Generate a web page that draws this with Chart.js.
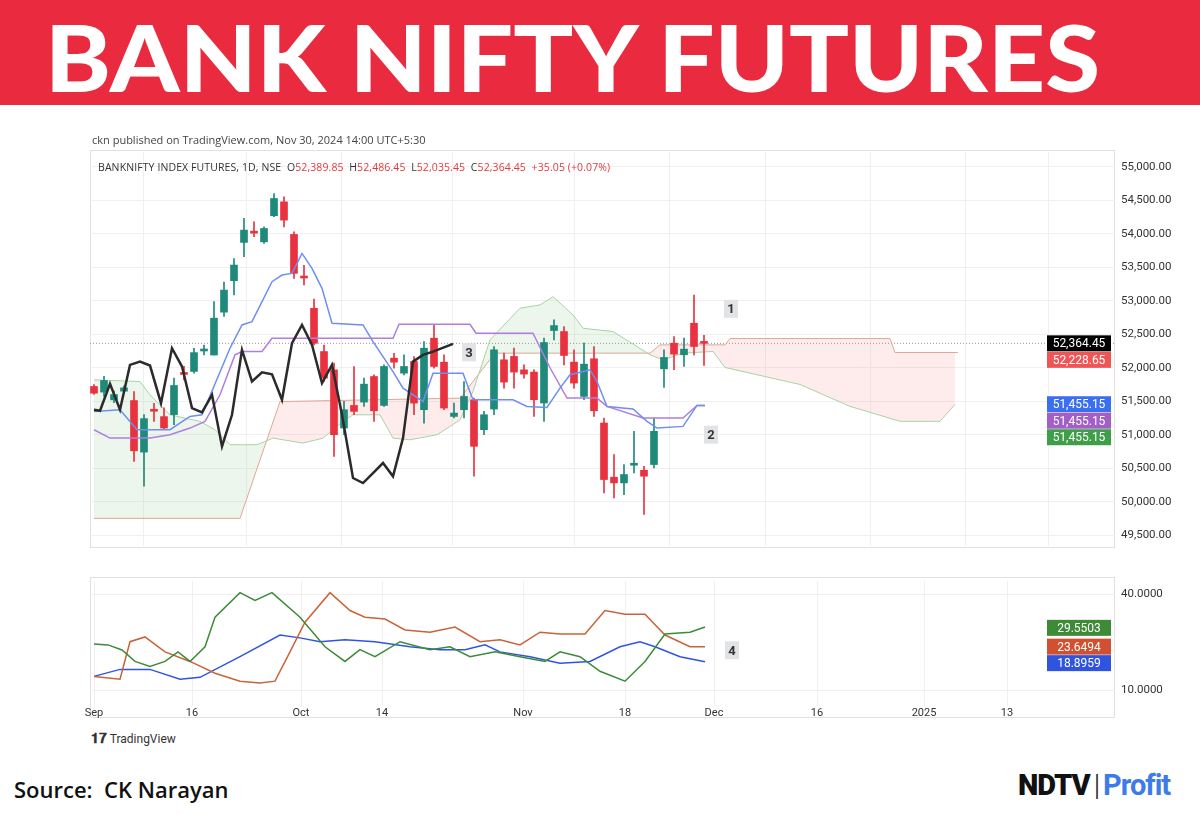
<!DOCTYPE html>
<html><head><meta charset="utf-8">
<script src="https://cdn.jsdelivr.net/npm/chart.js@4.4.1/dist/chart.umd.min.js"></script>
<style>
body{margin:0;width:1200px;height:815px;background:#fff;position:relative;overflow:hidden;font-family:"Open Sans",sans-serif;}
#banner{position:absolute;left:0;top:0;width:1200px;height:105px;background:#ea2a3e;}
.abs{position:absolute;}
#pub{left:92px;top:132px;font-size:11px;color:#444;}
#leg{left:98px;top:160px;font-size:10.5px;color:#333;letter-spacing:0.1px}
#leg span{color:#e23b3b}
#c1{left:0;top:139px;width:1200px;height:420px}
#c2{left:0;top:568px;width:1200px;height:152px}
#frame{left:90px;top:150px;width:1025px;height:568px;border:1px solid #e0e0e0;box-sizing:border-box}
#sep{left:90px;top:547px;width:1025px;height:31px;border-top:1px solid #e0e0e0;border-bottom:1px solid #e0e0e0;box-sizing:border-box;background:#fff}
#tv{left:91px;top:730px;font-size:12px;color:#333;font-family:Roboto}
#src{left:14px;top:774px;font-size:22px;color:#111;font-family:"Open Sans";font-weight:600}
#ndtv{left:1018px;top:768px;font-size:29px;font-weight:900;font-family:Roboto;color:#111;letter-spacing:-1px}
</style></head><body>
<div id="banner"><svg width="1200" height="105"><text x="45" y="92" textLength="1055" lengthAdjust="spacingAndGlyphs" font-family="Lato" font-weight="900" font-size="92" fill="#fff">BANK NIFTY FUTURES</text></svg></div>
<div id="frame" class="abs"></div>
<div id="c1" class="abs"><canvas id="main"></canvas></div>
<div id="sep" class="abs"></div>
<div id="c2" class="abs"><canvas id="low"></canvas></div>
<div id="pub" class="abs">ckn published on TradingView.com, Nov 30, 2024 14:00 UTC+5:30</div>
<div id="leg" class="abs">BANKNIFTY INDEX FUTURES, 1D, NSE &nbsp;O<span>52,389.85</span> &nbsp;H<span>52,486.45</span> &nbsp;L<span>52,035.45</span> &nbsp;C<span>52,364.45</span> &nbsp;<span>+35.05 (+0.07%)</span></div>
<div id="tv" class="abs"><b style="font-size:14px">𝟏𝟕</b> TradingView</div>
<div id="src" class="abs">Source:&nbsp; CK Narayan</div>
<div id="ndtv" class="abs">NDTV<span style="color:#111;font-weight:300;margin:0 4px">|</span><span style="color:#3d7be8;font-weight:700">Profit</span></div>
<script>
// candles: [open, high, low, close]
const candles = [
[51720,51750,51600,51620],[51636,51870,51570,51810],[51520,51650,51480,51600],[51650,51730,51620,51700],
[51510,51645,50600,50760],[50740,51300,50230,51240],[51370,51470,51200,51350],[51270,51400,51075,51100],
[51300,51845,51150,51735],[51920,52020,51820,51900],[51945,52290,51920,52226],[52250,52340,52190,52265],
[52190,52990,52190,52740],[52830,53280,52765,53160],[53300,53630,53086,53534],[53872,54230,53660,54056],
[54030,54180,53956,54010],[53880,54105,53857,54080],[54270,54600,54255,54528],[54478,54553,54105,54205],
[53991,54030,53335,53410],[53360,53530,53236,53340],[52888,53027,52340,52366],[52242,52340,51795,51845],
[51969,52068,50677,51000],[51100,51497,51000,51373],[51437,52019,51298,51348],[51487,51845,51422,51755],
[51869,51894,51199,51358],[51437,52044,51422,52019],[52143,52217,51994,52083],[51919,52193,51894,52019],
[52093,52168,51298,51472],[51373,52391,51174,52292],[52441,52640,51994,52019],[52083,52193,51373,51398],
[51273,51472,51249,51323],[51373,51795,51249,51571],[51522,51547,50379,50826],[51075,51348,51000,51298],
[51383,52317,51299,52268],[52119,52218,51696,51786],[52169,52293,51696,51935],[51969,52044,51845,51905],
[51935,51970,51274,51522],[51473,52442,51200,52377],[52556,52715,52417,52630],[52541,52615,52044,52183],
[52084,52268,51696,51771],[51572,52367,51523,52054],[52134,52317,51274,51358],[51175,51249,50131,50330],
[50365,50703,50057,50280],[50280,50554,50106,50405],[50544,51050,50430,50559],[50469,50529,49808,50380],
[50554,51249,50504,51050],[51984,52268,51706,52154],[52367,52466,51970,52203],[52193,52442,52019,52278],
[52665,53087,52193,52317],[52390,52486,52035,52364]
];
const conversionLine = [[0,51347],[2.6,51372],[4.3,51074],[7.6,51074],[9.6,51273],[10.8,51297],[13.6,52291],[14.8,52639],[15.8,52689],[17.8,53285],[18.8,53384],[19.8,53409],[20.8,53708],[21.8,53484],[22.8,53186],[23.8,52664],[26.9,52639],[27.9,52390],[29.9,51943],[30.9,51695],[32.9,51496],[33.9,51918],[36.9,51918],[37.9,51522],[41.9,51522],[43.3,51422],[45.3,51408],[46.6,51696],[47.6,51895],[49.6,51969],[50.3,51795],[51.3,51422],[53.9,51383],[55.3,51199],[56.3,51100],[58.9,51124],[60.3,51437],[61.1,51437]];
const baseLine = [[0,51074],[1.6,50949],[5.6,50949],[7.6,50999],[9.6,51099],[11.1,51199],[12.6,51596],[14.1,52192],[14.8,52242],[16.8,52242],[17.8,52440],[29.9,52440],[30.5,52650],[37.6,52650],[38.2,52516],[43.9,52516],[45.6,52000],[47.3,51547],[50.3,51547],[51.3,51422],[54.9,51249],[58.9,51249],[60.3,51437],[61.1,51437]];
const laggingSpan = [[0,51372],[0.6,51357],[1.6,51759],[2.6,51372],[3.6,52043],[4.6,52092],[5.6,52033],[6.7,51471],[7.8,52291],[8.8,52018],[9.8,51397],[10.8,51332],[11.8,51595],[12.8,50825],[13.8,51297],[14.8,52266],[15.8,51794],[16.8,51933],[17.8,51903],[18.8,51521],[19.8,52366],[20.8,52639],[21.8,52341],[22.8,51769],[23.8,52043],[24.8,51297],[25.9,50353],[26.9,50278],[27.9,50427],[28.9,50577],[29.9,50378],[30.9,50949],[31.9,52092],[32.9,52192],[33.9,52241],[35.9,52356]];
const leadingSpanA = [[0,51819],[4.6,51794],[5.6,51595],[7.6,51297],[10.6,51198],[12.1,51074],[13.6,50850],[16.3,50850],[17.9,50949],[20.9,50875],[22.9,50949],[24.9,51198],[25.9,51297],[28.6,51297],[29.9,50949],[31.6,50924],[34.3,50999],[35.6,51123],[36.6,51223],[37.9,51645],[39.6,52417],[42.6,52889],[44.6,52938],[45.9,53062],[47.9,52789],[48.9,52590],[51.9,52541],[54.3,52317],[55.6,52193],[56.9,52119],[58.9,52218],[61.9,52243],[63.1,52004],[70.6,51750],[75.6,51423],[80.6,51200],[84.6,51200],[86.1,51453]];
const leadingSpanB = [[0,49750],[14.6,49750],[18.6,51495],[36.6,51546],[40.1,52218],[55.6,52218],[56.6,52342],[63.1,52342],[63.6,52436],[79.6,52436],[80.1,52228],[86.4,52228]];
const plusDI = [[0,24.5],[1.4,24.2],[2.8,22.6],[4.1,19.0],[5.6,17.4],[7.1,19.0],[8.4,22.0],[9.6,19.0],[11.1,23.6],[12.1,32.9],[14.6,40.6],[16.1,38.2],[17.8,40.6],[20.6,32.9],[23.1,23.6],[25.1,19.0],[26.6,22.7],[28.1,20.5],[30.6,25.2],[33.6,22.7],[35.6,23.6],[37.6,20.5],[40.1,22.0],[42.6,20.5],[45.1,19.0],[46.6,22.0],[48.6,20.5],[50.6,15.9],[53.1,12.8],[55.1,19.0],[57.1,27.6],[59.6,28.2],[61.1,29.8]];
const minusDI = [[0,14.3],[2.6,13.4],[3.6,25.2],[5.1,26.7],[7.1,22.0],[9.6,19.0],[12.1,15.3],[14.6,12.8],[16.6,12.2],[18.1,12.8],[19.6,22.0],[21.1,31.3],[23.6,40.6],[25.6,35.0],[27.1,32.9],[29.1,32.3],[31.1,28.9],[33.6,28.2],[36.1,29.8],[38.6,25.2],[40.6,25.8],[42.6,24.2],[44.6,28.2],[46.6,27.6],[49.1,27.6],[51.1,35.0],[53.1,33.8],[55.1,33.8],[57.1,27.3],[59.6,23.6],[61.1,23.6]];
const adx = [[0,14.3],[2.6,16.5],[5.6,16.5],[8.6,13.4],[10.6,14.0],[14.6,20.5],[18.6,27.3],[20.6,26.4],[22.6,25.2],[25.1,25.8],[28.1,25.2],[31.6,23.6],[34.6,22.7],[37.1,22.7],[39.1,24.2],[40.6,22.0],[43.6,20.5],[46.6,18.4],[49.6,19.0],[52.6,23.6],[54.6,25.2],[56.1,23.6],[58.6,20.5],[61.1,18.9]];
const xTickPos = [0,9.8,20.7,28.8,42.9,53.1,62,72.3,83,91.3];
const xTickLabels = ["Sep","16","Oct","14","Nov","18","Dec","16","2025","13"];
const priceLabels = [[52364.45,"52,364.45","#000"],[52228.65,"52,228.65","#f05454"],[51455.15,"51,455.15","#3a6ff0"],[51455.15,"51,455.15","#a45ec8"],[51455.15,"51,455.15","#3f9e48"]];
const lowLabels = [[29.5503,"29.5503","#3d8b37"],[23.6494,"23.6494","#d2502f"],[18.8959,"18.8959","#2f55e0"]];
const notes = [["1",63.7,52880],["2",61.7,51000],["3",37.5,52230],["4",63.8,22.5]];

const XMIN=-0.4, XMAX=102.1;
const GREEN='#1f8a7a', RED='#e8323f';
const pts = a => a.map(p=>({x:p[0],y:p[1]}));
const body = candles.map((c,i)=>({x:i,y:[c[0],c[3]]}));
const wick = candles.map((c,i)=>({x:i,y:[c[2],c[1]]}));
const col = candles.map(c=> c[3]>=c[0]?GREEN:RED);
const fmt = v => v.toLocaleString('en-US',{minimumFractionDigits:2,maximumFractionDigits:2});

function xAxis(show){
  return {type:'linear',min:XMIN,max:XMAX,offset:false,
    afterBuildTicks:ax=>{ax.ticks=xTickPos.map(v=>({value:v}));},
    afterFit:ax=>{ax.height=show?14:0;},
    ticks:{display:show,autoSkip:false,maxRotation:0,color:'#333',font:{size:11,family:'Roboto'},padding:1,
      callback:(v)=>{const k=xTickPos.indexOf(v);return k>=0?xTickLabels[k]:'';}},
    grid:{color:'#f0f0f0',drawTicks:false},border:{display:false}};
}
function labelBoxes(chart, list, axisId){
  const ctx=chart.ctx, y=chart.scales[axisId];
  ctx.save(); ctx.font='12px Roboto'; ctx.textBaseline='middle';
  let last=-1e9;
  list.forEach(l=>{
    let py=y.getPixelForValue(l[0]);
    if(py<last+16) py=last+16.5; last=py;
    ctx.fillStyle=l[2]; ctx.fillRect(1047,py-8,64,16);
    ctx.fillStyle='#fff'; ctx.textAlign='center'; ctx.fillText(l[1],1079,py+1);
  });
  ctx.restore();
}
function noteBoxes(chart, list){
  const ctx=chart.ctx, x=chart.scales.x, y=chart.scales.y;
  ctx.save(); ctx.font='bold 13px Roboto'; ctx.textAlign='center'; ctx.textBaseline='middle';
  list.forEach(n=>{const px=x.getPixelForValue(n[1]),py=y.getPixelForValue(n[2]);
    ctx.fillStyle='#e2e3e6'; ctx.fillRect(px-7,py-9,14,18); ctx.fillStyle='#333'; ctx.fillText(n[0],px,py+1);});
  ctx.restore();
}
const lineDs=(d,c,w,extra)=>Object.assign({type:'line',data:pts(d),borderColor:c,borderWidth:w,pointRadius:0,tension:0,fill:false},extra||{});
function yAxis(min,max,ticks,f){
  return {position:'right',min:min,max:max,
    afterBuildTicks:ax=>{ax.ticks=ticks.map(v=>({value:v}));},
    afterFit:ax=>{ax.width=85;},
    ticks:{color:'#333',font:{size:11.5,family:'Roboto'},padding:6,callback:f},
    grid:{color:'#f0f0f0',drawTicks:false},border:{display:false}};
}
const mainTicks=[];for(let v=49500;v<=55000;v+=500)mainTicks.push(v);

new Chart(document.getElementById('main'),{
  type:'bar',
  data:{datasets:[
    lineDs(leadingSpanA,'#a9d3a2',1,{fill:{target:1,above:'rgba(120,190,120,0.14)',below:'rgba(240,120,110,0.14)'},order:10}),
    lineDs(leadingSpanB,'#e2a898',1,{order:11}),
    {type:'bar',data:wick,backgroundColor:col,barThickness:1,grouped:false,order:5},
    {type:'bar',data:body,backgroundColor:col,barThickness:7,minBarLength:2,grouped:false,order:4},
    lineDs(baseLine,'#b07ee0',1.5,{order:3}),
    lineDs(conversionLine,'#6e8ff0',1.5,{order:2}),
    lineDs(laggingSpan,'#2b2b2b',2.5,{order:1})
  ]},
  options:{responsive:true,maintainAspectRatio:false,animation:false,layout:{padding:{left:90,top:0,bottom:0,right:0}},
    plugins:{legend:{display:false},tooltip:{enabled:false}},
    scales:{x:xAxis(false),y:yAxis(49336,55224,mainTicks,v=>fmt(v))}},
  plugins:[{id:'extra',
    beforeDatasetsDraw(c){const ctx=c.ctx,y=c.scales.y.getPixelForValue(52364.45);
      ctx.save();ctx.setLineDash([1,2]);ctx.strokeStyle='#999';ctx.beginPath();ctx.moveTo(c.chartArea.left,y);ctx.lineTo(c.chartArea.right,y);ctx.stroke();ctx.restore();},
    afterDraw(c){labelBoxes(c,priceLabels,'y');noteBoxes(c,notes.slice(0,3));}}]
});

new Chart(document.getElementById('low'),{
  type:'line',
  data:{datasets:[lineDs(plusDI,'#3d8b37',1.5),lineDs(minusDI,'#c8643a',1.5),lineDs(adx,'#2f55e0',1.5)]},
  options:{responsive:true,maintainAspectRatio:false,animation:false,layout:{padding:{left:90,top:0,bottom:0,right:0}},
    plugins:{legend:{display:false},tooltip:{enabled:false}},
    scales:{x:xAxis(true),y:yAxis(5,44.3,[10,40],v=>v.toFixed(4))}},
  plugins:[{id:'extra2',afterDraw(c){labelBoxes(c,lowLabels,'y');noteBoxes(c,[notes[3]]);}}]
});
</script>
</body></html>
